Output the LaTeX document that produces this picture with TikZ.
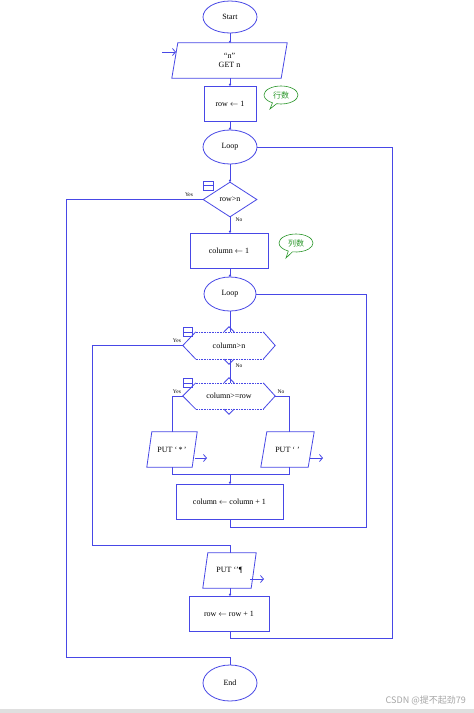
\documentclass[tikz,border=0pt]{standalone}
\usepackage{fontspec}
\setmainfont{Liberation Serif}
\newfontfamily\cjk{Noto Sans CJK SC}
\usetikzlibrary{shapes.geometric,shapes.callouts,arrows.meta,calc}
\definecolor{fc}{RGB}{72,72,230}
\definecolor{nc}{RGB}{40,150,40}
\newcommand\drawpara[2]{\draw[line] (#1.south west) -- ($(#1.north west)+(#2,0)$) -- (#1.north east) -- ($(#1.south east)+(-#2,0)$) -- cycle;}
\newcommand\drawhex[3]{%
 \draw[line] ($(#1.north west)+(#2,0)$) -- (#1.west) -- ($(#1.south west)+(#2,0)$);
 \draw[line] ($(#1.north east)+(-#3,0)$) -- (#1.east) -- ($(#1.south east)+(-#3,0)$);
 \draw[fc, line width=0.6pt, densely dotted] ($(#1.north west)+(#2,0)$) -- ($(#1.north east)+(-#3,0)$);
 \draw[fc, line width=0.6pt, densely dotted] ($(#1.south west)+(#2,0)$) -- ($(#1.south east)+(-#3,0)$);}
\begin{document}
\begin{tikzpicture}[x=1pt,y=-1pt,
  line/.style={draw=fc, line width=0.8pt},
  conn/.style={draw=fc, line width=0.8pt, -{Circle[length=2pt]}},
  outarr/.style={draw=fc, line width=0.8pt, -{Straight Barb[length=3pt,width=7pt]}},
  txt/.style={font=\fontsize{8}{9.5}\selectfont, align=center},
  term/.style={ellipse, draw=fc, line width=0.8pt, inner sep=0, txt},
  proc/.style={rectangle, draw=fc, line width=0.8pt, inner sep=0, txt},
  io/.style={rectangle, inner sep=0, txt},
  lbl/.style={font=\fontsize{5.5}{6}\selectfont, inner sep=0},
  icon/.style={draw=fc, line width=0.8pt, minimum width=9pt, minimum height=9pt, inner sep=0,
    path picture={\draw[fc, line width=0.8pt] (path picture bounding box.west) -- (path picture bounding box.east);}},
  note/.style={ellipse callout, draw=nc, text=nc, line width=0.6pt, minimum width=34pt, minimum height=18pt, inner sep=0, font=\cjk\fontsize{8}{9}\selectfont}
]
\useasboundingbox (0,0) rectangle (474,713);
\fill[white] (0,0) rectangle (474,713);
\fill[gray!25] (0,709) rectangle (474,713);

% nodes
\node[term, minimum width=54pt, minimum height=32pt] (start) at (230,17) {Start};
\node[io, minimum width=115pt, minimum height=35pt] (get) at (229.5,60.5) {“n”\\GET n};
\node[proc, minimum width=52pt, minimum height=35pt] (row1) at (230,103.5) {row $\leftarrow$ 1};
\node[note, callout absolute pointer={(270,109)}] (n1) at (281,95) {行数};
\node[term, minimum width=54pt, minimum height=34pt] (loop1) at (230,147) {Loop};
\node[diamond, draw=fc, line width=0.8pt, minimum width=54pt, minimum height=35pt, inner sep=0, txt] (rown) at (230,199.5) {row>n};
\node[proc, minimum width=78pt, minimum height=35pt] (col1) at (229,250.5) {column $\leftarrow$ 1};
\node[note, callout absolute pointer={(286,258)}] (n2) at (296,243) {列数};
\node[term, minimum width=52pt, minimum height=34pt] (loop2) at (230,294) {Loop};
\node[io, minimum width=92pt, minimum height=27pt] (cgn) at (229,345.5) {column>n};
\node[io, minimum width=92pt, minimum height=26pt] (cge) at (229,396) {column>=row};
\node[io, minimum width=50pt, minimum height=35pt] (pstar) at (172,449.5) {PUT ‘\,*\,’};
\node[io, minimum width=53pt, minimum height=35pt] (psp) at (287.5,449.5) {PUT ‘\ ’};
\node[proc, minimum width=107pt, minimum height=35pt] (cinc) at (229.5,501.5) {column $\leftarrow$ column + 1};
\node[io, minimum width=53pt, minimum height=35pt] (pnl) at (229.5,570.5) {PUT ‘’¶};
\node[proc, minimum width=80pt, minimum height=35pt] (rinc) at (229,613.5) {row $\leftarrow$ row + 1};
\node[term, minimum width=54pt, minimum height=36pt] (end) at (230,683) {End};

% shapes drawn around io nodes
\drawpara{get}{6}
\drawpara{pstar}{5}
\drawpara{psp}{6}
\drawpara{pnl}{5}
\drawhex{cgn}{13}{12}
\drawhex{cge}{13}{12}
% small wedges on the hexagons
\draw[line] ($(cgn.north)+(-5,0)$) -- ++(5,-5) -- ++(5,5);
\draw[line] ($(cge.north)+(-5,0)$) -- ++(5,-5) -- ++(5,5);
\draw[line] ($(cge.south)+(-5,0)$) -- ++(5,5) -- ++(5,-5);
\draw[line] ($(cgn.south)+(-5,0)$) -- ++(5,5) -- ++(5,-5);

% icons
\node[icon, minimum width=10pt] (ic1) at (208,185.5) {};
\node[icon] (ic2) at (188,332) {};
\node[icon] (ic3) at (188,383) {};

% labels
\node[lbl] (y1) at (189,195) {Yes};
\node[lbl] (no1) at (239,220) {No};
\node[lbl] (y2) at (177,341) {Yes};
\node[lbl] (no2) at (239,366) {No};
\node[lbl] (y3) at (177,392) {Yes};
\node[lbl] (no3) at (281,392) {No};

% coordinates
\coordinate (lb1) at (392,638);
\coordinate (lb2) at (366,527);
\coordinate (c1) at (92,545);
\coordinate (c2) at (66,657);
\coordinate (m1) at (230,474);

% main connectors
\draw[conn] (start.south) -- (start.south |- get.north);
\draw[conn] (start.south |- get.south) -- (row1.north);
\draw[conn] (row1.south) -- (loop1.north);
\draw[conn] (loop1.south) -- (rown.north);
\draw[conn] (rown.south) -- (rown.south |- col1.north);
\draw[conn] (rown.south |- col1.south) -- (loop2.north);
\draw[line] (loop2.south) -- (loop2.south |- cgn.north);
\draw[line] (loop2.south |- cgn.south) -- (loop2.south |- cge.north);
\draw[line] (cge.west) -| (pstar.north);
\draw[line] (cge.east) -| ($(psp.north)+(1.5,0)$);
\draw[line] (pstar.south) |- (m1);
\draw[line] ($(psp.south)+(1.5,0)$) |- (m1);
\draw[conn] (m1) -- (m1 |- cinc.north);
\draw[line] (m1 |- cinc.south) |- (lb2) |- (loop2.east);
\draw[line] (cgn.west) -| (c1) -| (m1 |- pnl.north);
\draw[conn] (m1 |- pnl.south) -- (m1 |- rinc.north);
\draw[line] (m1 |- rinc.south) |- (lb1) |- (loop1.east);
\draw[line] (rown.west) -| (c2) -| (end.north);

% input / output arrows
\coordinate (ina) at (162,52);
\coordinate (inb) at (176,52);
\draw[outarr] (ina) -- (inb);
\coordinate (o1a) at (195,458);
\coordinate (o1b) at (207,458);
\draw[outarr] (o1a) -- (o1b);
\coordinate (o2a) at (310,458);
\coordinate (o2b) at (323,458);
\draw[outarr] (o2a) -- (o2b);
\coordinate (o3a) at (250,579);
\coordinate (o3b) at (264,579);
\draw[outarr] (o3a) -- (o3b);

% watermark
\node[anchor=east, text=gray!70, font=\cjk\fontsize{9}{10}\selectfont, inner sep=0] (wm) at (466,700) {CSDN @提不起劲79};
\end{tikzpicture}
\end{document}
